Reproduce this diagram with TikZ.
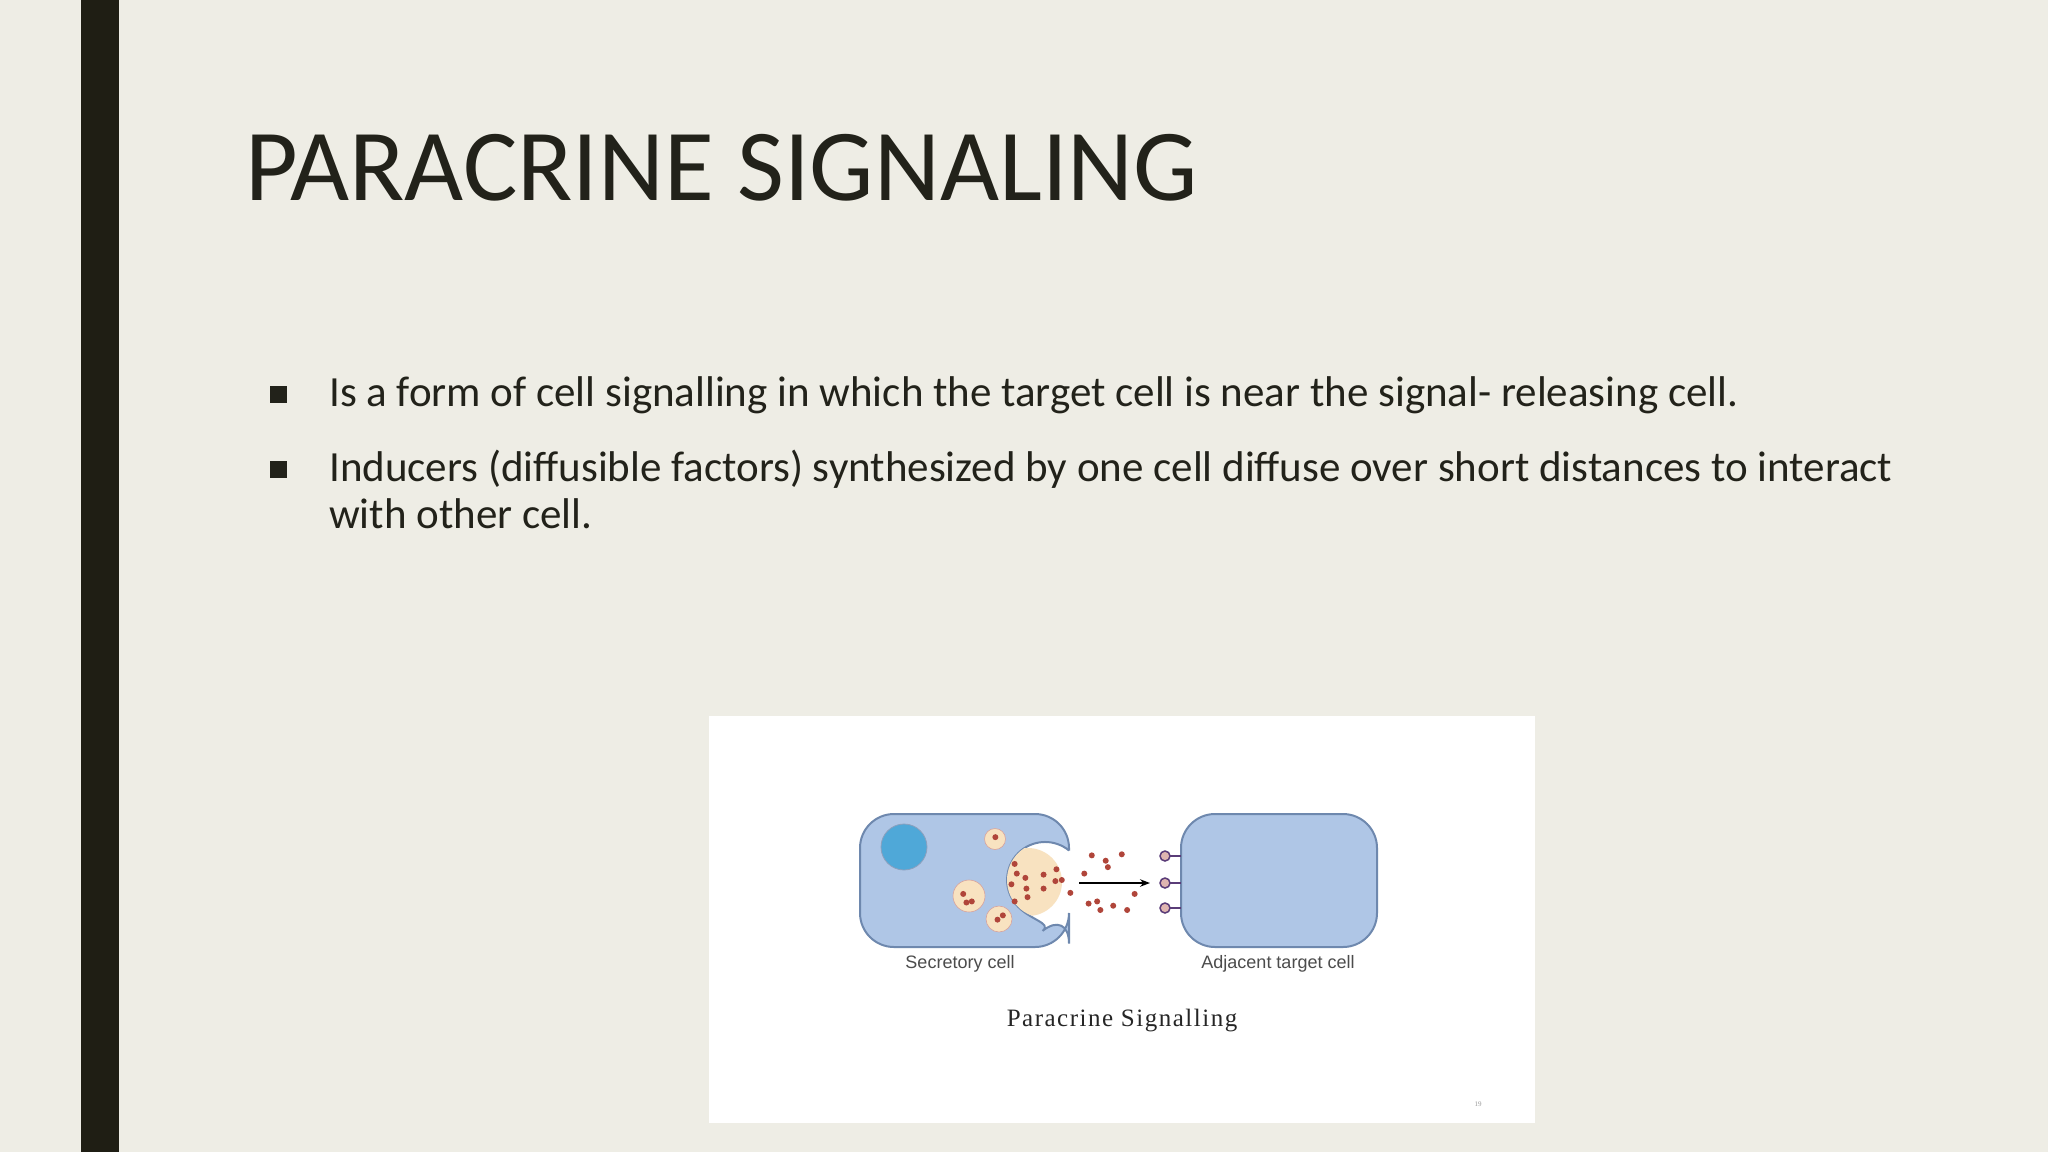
\documentclass[tikz,border=0pt]{standalone}
\usepackage{fontspec}
\setmainfont{Carlito}
\newfontfamily\serifz{Liberation Serif}
\newfontfamily\sansz{Liberation Sans}
\usetikzlibrary{arrows.meta}
\definecolor{bg}{HTML}{EEEDE5}
\definecolor{barc}{HTML}{1F1E14}
\definecolor{txt}{HTML}{22221A}
\definecolor{cellc}{HTML}{AFC6E6}
\definecolor{celld}{HTML}{6E88AE}
\definecolor{nuc}{HTML}{4FA8D8}
\definecolor{cream}{HTML}{F8E2C0}
\definecolor{dotc}{HTML}{B0453A}
\definecolor{recc}{HTML}{5A3C78}
\tikzset{
  bullettxt/.style={anchor=base west,font=\fontsize{43}{50}\selectfont,text=txt,inner sep=0pt},
  bsq/.style={fill=txt,minimum size=17pt,inner sep=0pt},
  cellbody/.style={fill=cellc,draw=celld,line width=2pt},
  nucl/.style={circle,fill=nuc,draw=celld!80,line width=0.8pt,minimum size=46pt,inner sep=0pt},
  ves/.style={circle,fill=cream,draw=dotc!50,line width=0.6pt,inner sep=0pt},
  dot/.style={circle,fill=dotc,inner sep=0pt,minimum size=6pt},
  lbl/.style={font=\sansz\fontsize{18}{20}\selectfont,text=black!70,inner sep=0pt}
}
\begin{document}
\begin{tikzpicture}[x=1pt,y=-1pt]
\fill[bg] (0,0) rectangle (2048,1152);
\useasboundingbox (0,0) rectangle (2048,1152);
\fill[barc] (81,0) rectangle (119,1152);
\node[anchor=base west,font=\fontsize{102}{110}\selectfont,text=txt,inner sep=0pt] (title) at (245,200) {PARACRINE SIGNALING};
\node[bsq] (b1) at (278,394) {};
\node[bullettxt] (t1) at (329,406) {Is a form of cell signalling in which the target cell is near the signal- releasing cell.};
\node[bsq] (b2) at (278,469) {};
\node[bullettxt] (t2) at (329,481) {Inducers (diffusible factors) synthesized by one cell diffuse over short distances to interact};
\node[bullettxt] (t3) at (329,528) {with other cell.};
% image
\fill[white] (709,716) rectangle (1535,1123);
% secretory cell
\path[cellbody] [rounded corners=34pt] (1069,850.5) -- (1069,814) -- (860,814) -- (860,947) -- (1069,947) -- (1069,909.5) [sharp corners] arc[start angle=51,end angle=309,radius=38] -- cycle;
\begin{scope}
\clip (1045,880) circle (38);
\fill[cream] (1028,882) circle (34);
\end{scope}
\node[nucl] (n1) at (904,847) {};
\node[nucl] (n2) at (1313,894) {};
\node[ves,minimum size=21pt] (v1) at (995,839) {};
\node[ves,minimum size=32pt] (v2) at (969,896) {};
\node[ves,minimum size=26pt] (v3) at (999,919) {};
\begin{scope}[shift={(840,760)},scale=1.0714,shift={(-840,-760)}]
\foreach \p in {(985,832),(955,885),(963,892),(958,893),(987,909),(992,905),
  (1003,857),(1005,866),(1013,870),(1000,876),(1014,880),(1030,867),(1015,888),(1030,880),(1003,892),
  (1042,862),(1041,873),(1047,872),(1055,884),(1068,866),(1075,849),(1088,854),(1103,848),(1090,860),
  (1072,894),(1080,892),(1083,900),(1095,896),(1108,900),(1115,885)}
  \node[dot] at \p {};
\end{scope}
% target cell
\draw[cellbody,rounded corners=34pt] (1181,814) rectangle (1377,947);
\foreach \yy/\nm in {856/r1,883/r2,908/r3}{
  \draw[recc,line width=2pt] (1168,\yy) -- (1181,\yy);
  \node[circle,draw=recc,fill=dotc!40,line width=1.5pt,minimum size=10pt,inner sep=0pt] (\nm) at (1165,\yy) {};
}
\coordinate (as) at (1079,883);
\coordinate (ae) at (1150,883);
\draw[-{Stealth[length=10pt]},line width=1.4pt] (as) -- (ae);
\node[lbl] (l1) at (960,964) {Secretory cell};
\node[lbl] (l2) at (1278,964) {Adjacent target cell};
\node[font=\serifz\fontsize{25}{28}\selectfont,text=black!85,inner sep=0pt] (cap) at (1122,1021) {\addfontfeatures{LetterSpace=6}Paracrine Signalling};
\node[font=\serifz\fontsize{7}{8}\selectfont,text=black!40,inner sep=0pt] (pg) at (1478,1104) {19};
\end{tikzpicture}
\end{document}
